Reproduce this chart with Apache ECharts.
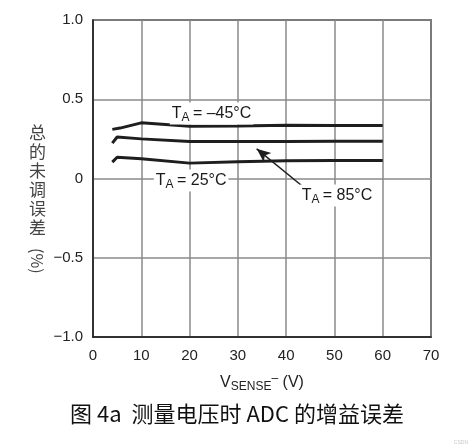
<!DOCTYPE html>
<html>
<head>
<meta charset="utf-8">
<script src="https://cdn.jsdelivr.net/npm/echarts@6/dist/echarts.min.js"></script>
<style>
html,body{margin:0;padding:0;background:#fff;}
#c{width:474px;height:448px;}
</style>
</head>
<body>
<div id="c"></div>
<script>
// ---- data ----
const xTicks = [0, 10, 20, 30, 40, 50, 60, 70];
const yTicks = [-1.0, -0.5, 0, 0.5, 1.0];
const tMinus45 = [[4, 0.310], [5.6, 0.318], [10, 0.351], [20, 0.330], [30, 0.332], [40, 0.336], [50, 0.335], [60, 0.334]];
const t85 = [[4, 0.223], [5, 0.262], [10, 0.250], [20, 0.233], [30, 0.233], [40, 0.234], [50, 0.235], [60, 0.235]];
const t25 = [[4, 0.103], [5, 0.134], [10, 0.124], [20, 0.097], [30, 0.105], [40, 0.112], [50, 0.113], [60, 0.114]];
const arrowFrom = [43.2, -0.044];
const arrowTo = [33.9, 0.187];
const labelMinus45 = { text: '= \u201345\u00b0C', at: [15.9, 0.41] };
const label25 = { text: '= 25\u00b0C', at: [12.6, -0.013] };
const label85 = { text: '= 85\u00b0C', at: [42.8, -0.107] };
const titleText = '图 4a  测量电压时 ADC 的增益误差';
const yNameChars = '总的未调误差';

const chart = echarts.init(document.getElementById('c'), null, { renderer: 'canvas' });
const lineColor = '#1e1e1e';
const sansFont = '"Liberation Sans", Arial, sans-serif';
const cjkFont = '"Noto Sans CJK SC", sans-serif';

function mkSeries(name, data, extra) {
  return Object.assign({
    name: name, type: 'line', data: data, showSymbol: false, symbol: 'none',
    lineStyle: { color: lineColor, width: 3 }, z: 5, silent: true
  }, extra || {});
}

chart.setOption({
  animation: false,
  backgroundColor: '#fff',
  grid: { left: 93, right: 43, top: 20, bottom: 111, show: true, borderColor: '#1a1a1a', borderWidth: 1.5 },
  xAxis: {
    type: 'value', min: xTicks[0], max: xTicks[xTicks.length - 1], interval: 10,
    axisLine: { show: true, onZero: false, lineStyle: { color: '#1a1a1a', width: 1.5 } },
    axisTick: { show: false },
    splitLine: { show: true, lineStyle: { color: '#8a8a8a', width: 1.5 } },
    axisLabel: { color: '#222', fontSize: 15, fontFamily: sansFont, margin: 11 },
    name: 'V{sub|SENSE}{sup|\u2013} (V)',
    nameLocation: 'middle', nameGap: 36,
    nameTextStyle: {
      color: '#222', fontSize: 16, fontFamily: sansFont,
      rich: {
        sub: { fontSize: 12, fontFamily: sansFont, color: '#222', padding: [7, 0, 0, 0] },
        sup: { fontSize: 12, fontFamily: sansFont, color: '#222', padding: [0, 0, 8, 0] }
      }
    }
  },
  yAxis: {
    type: 'value', min: yTicks[0], max: yTicks[yTicks.length - 1], interval: 0.5,
    axisLine: { show: true, lineStyle: { color: '#1a1a1a', width: 1.5 } },
    axisTick: { show: false },
    splitLine: { show: true, lineStyle: { color: '#8a8a8a', width: 1.5 } },
    axisLabel: {
      color: '#222', fontSize: 15, fontFamily: sansFont, margin: 10,
      formatter: function (v) {
        if (v === 0) return '0';
        const s = Math.abs(v).toFixed(1);
        return (v < 0 ? '\u2212' : '') + s;
      }
    }
  },
  series: [
    mkSeries('-45', tMinus45),
    mkSeries('85', t85),
    mkSeries('25', t25, {
      markLine: {
        silent: true, symbol: ['none', 'arrow'], symbolSize: [9, 14],
        label: { show: false },
        lineStyle: { color: lineColor, width: 1.5, type: 'solid' },
        data: [[{ coord: arrowFrom }, { coord: arrowTo }]]
      }
    })
  ]
});

function taLabel(lbl) {
  const p = chart.convertToPixel({ gridIndex: 0 }, lbl.at);
  return {
    type: 'text', left: p[0], top: p[1] - 11, z: 20,
    style: {
      text: '{t|T}{s|A} {t|' + lbl.text + '}',
      backgroundColor: '#fff', padding: [1, 2, 1, 2],
      rich: {
        t: { fontSize: 16, fontFamily: sansFont, fill: '#1a1a1a', color: '#1a1a1a' },
        s: { fontSize: 12, fontFamily: sansFont, fill: '#1a1a1a', color: '#1a1a1a', padding: [8, 0, 0, 0] }
      }
    }
  };
}

const graphics = [
  taLabel(labelMinus45), taLabel(label25), taLabel(label85),
  {
    type: 'text', left: 'center', top: 403, z: 20,
    style: { text: titleText, font: '22px ' + cjkFont, fill: '#111' }
  },
  {
    type: 'text', left: 29, top: 123, z: 20,
    style: { text: yNameChars.split('').join('\n'), font: '17px ' + cjkFont, fill: '#444', lineHeight: 19 }
  },
  {
    type: 'text', x: 45, y: 248, rotation: -Math.PI / 2, z: 20,
    style: { text: '(%)', font: '16px ' + cjkFont, fill: '#444' }
  },
  {
    type: 'text', right: 6, bottom: 3, z: 20,
    style: { text: 'CSDN', font: '5px ' + sansFont, fill: '#c8c8c8' }
  }
];
chart.setOption({ graphic: graphics });
</script>
</body>
</html>
